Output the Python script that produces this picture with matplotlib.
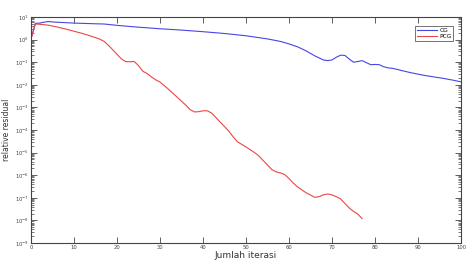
import matplotlib
matplotlib.use("Agg")
import matplotlib.pyplot as plt
import numpy as np
from matplotlib.ticker import LogLocator, FixedLocator

cg_iter = [0, 1, 2, 3, 4, 5, 10, 15, 17, 20, 25, 30, 35, 40, 45, 50, 55, 58, 60, 62, 64, 66, 68, 69, 70, 71, 72, 73, 74, 75, 76, 77, 78, 79, 80, 81, 82, 83, 84, 85, 86, 88, 90, 92, 94, 96, 98, 100]
cg_log = [0.02, 0.72, 0.73, 0.77, 0.80, 0.78, 0.73, 0.70, 0.69, 0.63, 0.55, 0.48, 0.42, 0.35, 0.27, 0.17, 0.03, -0.08, -0.19, -0.32, -0.50, -0.72, -0.90, -0.93, -0.90, -0.78, -0.69, -0.70, -0.86, -1.00, -0.97, -0.93, -1.02, -1.11, -1.10, -1.11, -1.20, -1.25, -1.27, -1.31, -1.36, -1.45, -1.53, -1.60, -1.66, -1.72, -1.79, -1.87]

pcg_iter = [0, 1, 2, 3, 4, 6, 8, 10, 12, 14, 16, 17, 18, 19, 20, 21, 22, 23, 24, 25, 26, 27, 28, 29, 30, 32, 34, 36, 37, 38, 39, 40, 41, 42, 43, 44, 45, 46, 47, 48, 50, 52, 53, 54, 55, 56, 57, 58, 59, 60, 61, 62, 63, 64, 65, 66, 67, 68, 69, 70, 71, 72, 73, 74, 75, 76, 77]
pcg_log = [0.02, 0.69, 0.68, 0.66, 0.64, 0.56, 0.47, 0.37, 0.27, 0.15, 0.02, -0.08, -0.25, -0.45, -0.65, -0.85, -0.97, -0.98, -0.97, -1.15, -1.40, -1.50, -1.65, -1.78, -1.88, -2.20, -2.55, -2.90, -3.10, -3.20, -3.19, -3.15, -3.15, -3.25, -3.45, -3.65, -3.85, -4.05, -4.30, -4.52, -4.75, -5.00, -5.15, -5.35, -5.55, -5.75, -5.85, -5.90, -5.97, -6.15, -6.35, -6.52, -6.65, -6.78, -6.88, -6.98, -6.95, -6.87, -6.83, -6.87, -6.95, -7.05, -7.25, -7.45, -7.60, -7.72, -7.92]

x_ticks = [0, 10, 20, 30, 40, 50, 60, 70, 80, 90, 100]

fig = plt.figure(figsize=(4.74, 2.69), dpi=100)
ax = fig.add_axes([31/474, 1-243/269, 430/474, 226/269])

ax.semilogy(cg_iter, 10**np.array(cg_log), color="#4646e6", lw=0.8, label="CG")
ax.semilogy(pcg_iter, 10**np.array(pcg_log), color="#ec4646", lw=0.8, label="PCG")

ax.set_xlim(0, 100)
ax.set_ylim(1e-9, 1e1)
ax.xaxis.set_major_locator(FixedLocator(x_ticks))
ax.yaxis.set_major_locator(LogLocator(base=10, numticks=20))
ax.yaxis.set_minor_locator(LogLocator(base=10, subs=np.arange(2, 10), numticks=20))

gray = "#444444"
for s in ax.spines.values():
    s.set_color(gray)
    s.set_linewidth(0.8)
ax.tick_params(which="both", direction="in", top=True, right=True, colors=gray, labelsize=3.8, pad=1.5)
ax.tick_params(which="major", length=4, width=0.6)
ax.tick_params(which="minor", length=2, width=0.5)
ax.tick_params(axis="x", which="minor", bottom=False, top=False)

ax.set_xlabel("Jumlah iterasi", fontsize=6.5, color="#333333", labelpad=1)
ax.set_ylabel("relative residual", fontsize=5.5, color="#333333")
ax.yaxis.set_label_coords(-0.047, 0.5)

leg = ax.legend(loc="upper right", fontsize=4.2, frameon=True, fancybox=False,
                edgecolor="#333333", borderpad=0.3, handlelength=3.5, handletextpad=0.3,
                labelspacing=0.15, bbox_to_anchor=(0.989, 0.973))
leg.get_frame().set_linewidth(0.6)

fig.savefig("out.png", dpi=100, facecolor="white")
